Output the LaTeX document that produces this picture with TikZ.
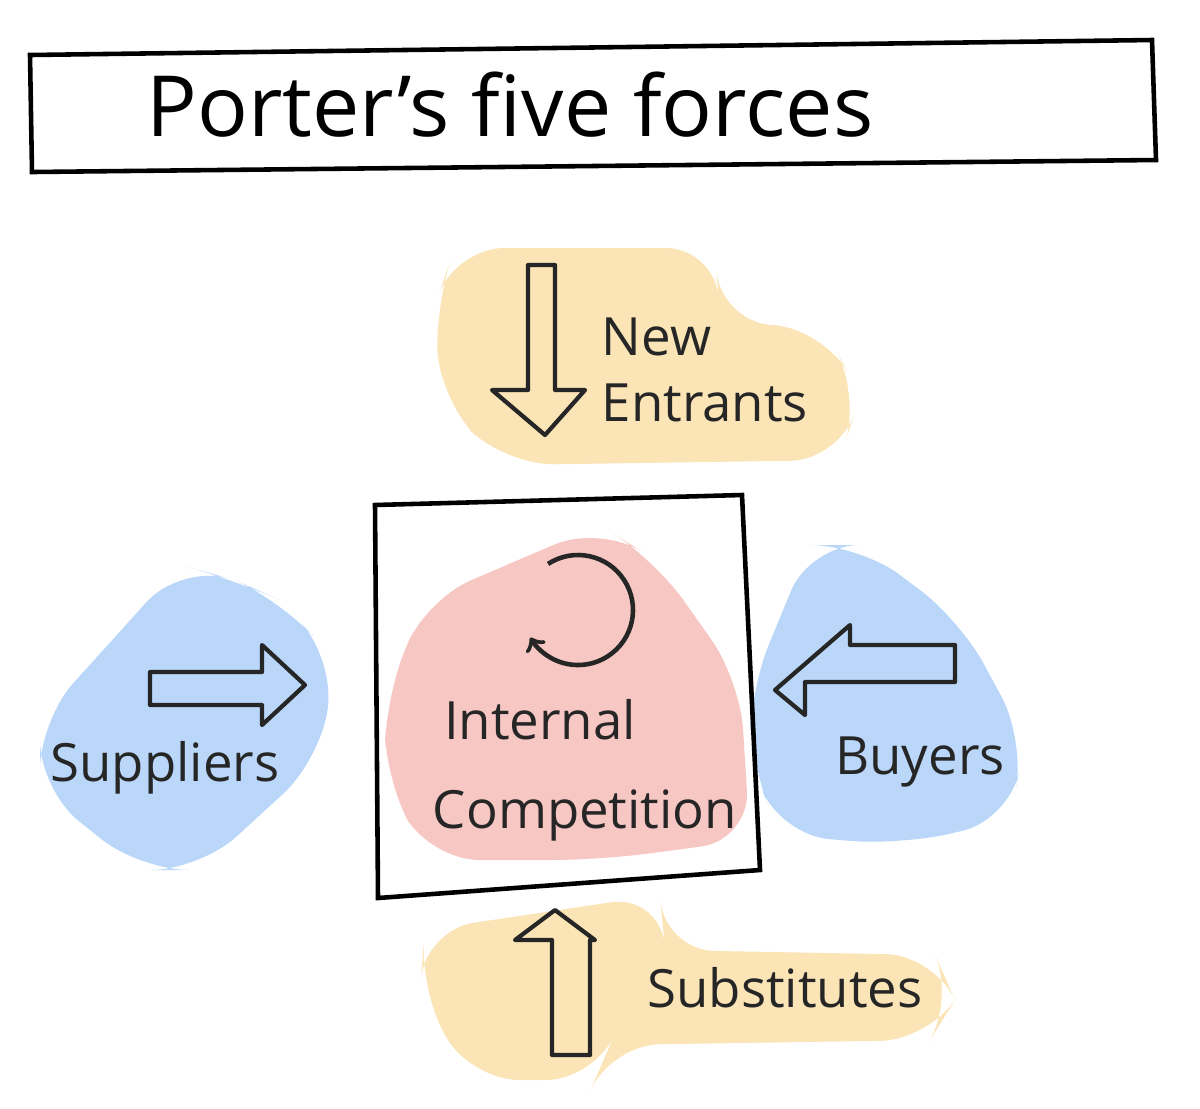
\documentclass[tikz,border=0pt]{standalone}
\usepackage{fontspec}
\setsansfont{Open Sans}
\definecolor{sand}{HTML}{FBE4B6}
\definecolor{sky}{HTML}{BAD7FA}
\definecolor{rose}{HTML}{F7C7C4}
\begin{document}
\begin{tikzpicture}[x=0.01cm,y=-0.01cm,
  label/.style={font={\fontsize{15}{19}\selectfont\sffamily},text=black!85,align=left},
  blob/.style={rounded corners=14},
  force/.style={draw=black!85,line width=1.2pt,line join=round}]
  \useasboundingbox (0,0) rectangle (1200,1108);
  % title
  \draw[line width=1.3pt] (30,55) -- (1152,40) -- (1156,160) -- (32,172) -- cycle;
  \node[font={\fontsize{24}{28}\selectfont\sffamily}] (title) at (510,105) {Porter's five forces};
  % colour patches
  \fill[sand,blob] (455,248) -- (715,248) -- (720,320) -- (825,330) -- (860,395) -- (840,460)
    -- (505,465) -- (440,400) -- (435,305) -- cycle;
  \fill[sand,blob] (425,930) -- (660,895) -- (665,950) -- (935,955) -- (955,1000) -- (930,1040)
    -- (610,1045) -- (595,1080) -- (470,1080) -- (420,990) -- cycle;
  \fill[sky,blob] (40,720) -- (180,565) -- (235,580) -- (280,600) -- (335,660) -- (320,760)
    -- (200,870) -- (140,870) -- (40,790) -- cycle;
  \fill[sky,blob] (750,690) -- (810,545) -- (860,545) -- (960,620) -- (1025,740) -- (1010,820)
    -- (900,845) -- (780,835) -- (750,760) -- cycle;
  \fill[rose,blob] (385,700) -- (425,600) -- (600,525) -- (655,560) -- (740,680) -- (750,840)
    -- (600,860) -- (430,860) -- (385,780) -- cycle;
  % centre box
  \draw[line width=1.3pt] (375,505) -- (742,495) -- (760,870) -- (378,898) -- cycle;
  % labels
  \node[label] (newent) at (705,370) {New\\Entrants};
  \node[label] (internal) at (540,720) {Internal};
  \node[label] (compet) at (585,815) {Competition};
  \node[label] (suppl) at (165,768) {Suppliers};
  \node[label] (buyers) at (920,762) {Buyers};
  \node[label] (subst) at (785,988) {Substitutes};
  % force arrows
  \draw[force] (528,265) -- (555,265) -- (555,390) -- (585,390) -- (545,435) -- (492,390)
    -- (528,390) -- cycle;
  \draw[force] (552,1055) -- (590,1055) -- (590,940) -- (595,940) -- (555,910) -- (515,940)
    -- (552,940) -- cycle;
  \draw[force] (150,672) -- (262,672) -- (262,645) -- (305,685) -- (262,725) -- (262,705)
    -- (150,705) -- cycle;
  \draw[force] (955,645) -- (850,645) -- (850,625) -- (775,690) -- (805,715) -- (805,682)
    -- (955,682) -- cycle;
  % rivalry loop
  \draw[line width=1.3pt,black!85,->] (578,610) ++(-123:55) arc[start angle=-123,end angle=150,radius=55];
\end{tikzpicture}
\end{document}
